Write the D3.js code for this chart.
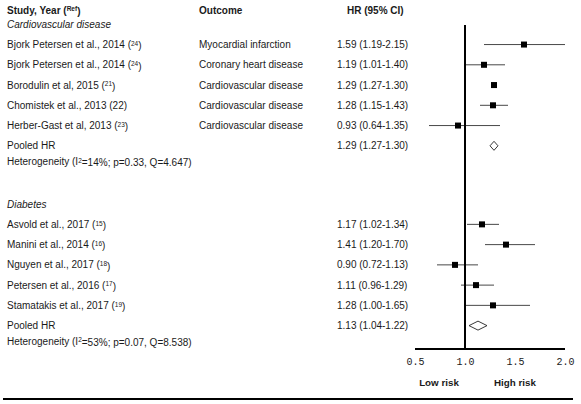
<!DOCTYPE html>
<html><head><meta charset="utf-8">
<script src="https://cdn.jsdelivr.net/npm/d3@7"></script>
<style>
html,body{margin:0;padding:0;background:#fff;}
svg{display:block;}
text{font-family:"Liberation Sans",Arial,sans-serif;fill:#1a1a1a;}
</style></head>
<body>
<svg id="chart" width="581" height="404"></svg>
<script>
// ---- data ----
const headers = ["Study, Year (", "Ref", ")", "Outcome", "HR (95% CI)"];
const cvdTitle = "Cardiovascular disease";
const cvdStudies = ["Bjork Petersen et al., 2014", "Bjork Petersen et al., 2014", "Borodulin et al, 2015", "Chomistek et al., 2013", "Herber-Gast et al, 2013"];
const cvdRefs = ["24", "24", "21", "22", "23"];
const cvdRefSup = [true, true, true, false, true];
const cvdOutcomes = ["Myocardial infarction", "Coronary heart disease", "Cardiovascular disease", "Cardiovascular disease", "Cardiovascular disease"];
const cvdHR = [1.59, 1.19, 1.29, 1.28, 0.93];
const cvdLo = [1.19, 1.01, 1.27, 1.15, 0.64];
const cvdHi = [2.15, 1.40, 1.30, 1.43, 1.35];
const cvdPooled = [1.29, 1.27, 1.30];
const cvdHet = ["Heterogeneity (I", "2", "=14%; p=0.33, Q=4.647)"];

const diabTitle = "Diabetes";
const diabStudies = ["Asvold et al., 2017", "Manini et al., 2014", "Nguyen et al., 2017", "Petersen et al., 2016", "Stamatakis et al., 2017"];
const diabRefs = ["15", "16", "18", "17", "19"];
const diabRefSup = [true, true, true, true, true];
const diabHR = [1.17, 1.41, 0.90, 1.11, 1.28];
const diabLo = [1.02, 1.20, 0.72, 0.96, 1.00];
const diabHi = [1.34, 1.70, 1.13, 1.29, 1.65];
const diabPooled = [1.13, 1.04, 1.22];
const diabHet = ["Heterogeneity (I", "2", "=53%; p=0.07, Q=8.538)"];

const pooledLabel = "Pooled HR";
const xTicks = [0.5, 1.0, 1.5, 2.0];
const axisLabels = ["Low risk", "High risk"];

// ---- layout ----
const svg = d3.select("#chart");
const x = d3.scaleLinear().domain([0.5, 2.0]).range([415, 565]);
const rowY = d3.scaleLinear().domain([0, 1]).range([24.3, 44.55]);
const colStudy = 7, colOutcome = 199, colHR = 337;
const fs = 10;
const fmt = d3.format(".2f");

function txt(xp, yp, opts = {}) {
  const t = svg.append("text").attr("x", xp).attr("y", yp).attr("dy", "0.35em")
    .style("font-size", (opts.size || fs) + "px");
  if (opts.bold) t.style("font-weight", "bold");
  if (opts.italic) t.style("font-style", "italic");
  if (opts.anchor) t.attr("text-anchor", opts.anchor);
  return t;
}
function supText(t, parts) {
  t.append("tspan").text(parts[0]);
  t.append("tspan").attr("dy", "-0.35em").style("font-size", "6.5px").text(parts[1]);
  t.append("tspan").attr("dy", "0.35em").text(parts[2]);
}

// header
supText(txt(colStudy, 10, {bold: true}), headers.slice(0, 3));
txt(colOutcome, 10, {bold: true}).text(headers[3]);
txt(347, 10, {bold: true}).text(headers[4]);

function group(start, title, studies, refs, sup, outcomes, hr, lo, hi, pooled, het) {
  txt(colStudy, rowY(start), {italic: true}).text(title);
  studies.forEach((s, i) => {
    const yy = rowY(start + 1 + i);
    const t = txt(colStudy, yy);
    if (sup[i]) supText(t, [s + " (", refs[i], ")"]);
    else t.text(s + " (" + refs[i] + ")");
    if (outcomes) txt(colOutcome, yy).text(outcomes[i]);
    txt(colHR, yy).text(fmt(hr[i]) + " (" + fmt(lo[i]) + "-" + fmt(hi[i]) + ")");
    const l = Math.max(0.5, lo[i]), h = Math.min(2.0, hi[i]);
    svg.append("line").attr("x1", x(l)).attr("x2", x(h)).attr("y1", yy).attr("y2", yy)
      .attr("stroke", "#333").attr("stroke-width", 0.9);
    svg.append("rect").attr("x", x(hr[i]) - 3).attr("y", yy - 3).attr("width", 6).attr("height", 6)
      .attr("fill", "#000");
  });
  const py = rowY(start + 1 + studies.length);
  txt(colStudy, py).text(pooledLabel);
  supText(txt(colStudy, py + 15.5), het);
  txt(colHR, py).text(fmt(pooled[0]) + " (" + fmt(pooled[1]) + "-" + fmt(pooled[2]) + ")");
  let xl = x(pooled[1]), xr = x(pooled[2]);
  const xc = x(pooled[0]);
  if (xr - xl < 8) { xl = xc - 4; xr = xc + 4; }
  svg.append("path")
    .attr("d", `M${xl},${py} L${xc},${py - 4.5} L${xr},${py} L${xc},${py + 4.5} Z`)
    .attr("fill", "#fff").attr("stroke", "#222").attr("stroke-width", 0.9);
}

group(0, cvdTitle, cvdStudies, cvdRefs, cvdRefSup, cvdOutcomes, cvdHR, cvdLo, cvdHi, cvdPooled, cvdHet);
group(8.88, diabTitle, diabStudies, diabRefs, diabRefSup, null, diabHR, diabLo, diabHi, diabPooled, diabHet);

// reference line at 1.0
svg.append("line").attr("x1", x(1)).attr("x2", x(1)).attr("y1", 25).attr("y2", 349)
  .attr("stroke", "#000").attr("stroke-width", 2);

// axis
const axis = d3.axisBottom(x).tickValues(xTicks).tickSize(0).tickPadding(9).tickFormat(d3.format(".1f"));
const ag = svg.append("g").attr("transform", "translate(0,349)").call(axis);
ag.select(".domain").attr("stroke", "#000").attr("stroke-width", 2).attr("d", `M${x(0.5)},0H${x(2.0)}`);
ag.selectAll(".tick text").style("font-family", "'Liberation Mono','DejaVu Sans Mono',monospace")
  .style("font-size", "10px").attr("fill", "#222");

txt(439, 383, {bold: true, anchor: "middle", size: 9.8}).text(axisLabels[0]);
txt(515, 383, {bold: true, anchor: "middle", size: 9.8}).text(axisLabels[1]);

// bottom rule
svg.append("line").attr("x1", 3).attr("x2", 573).attr("y1", 399).attr("y2", 399)
  .attr("stroke", "#000").attr("stroke-width", 2);
</script>
</body></html>
